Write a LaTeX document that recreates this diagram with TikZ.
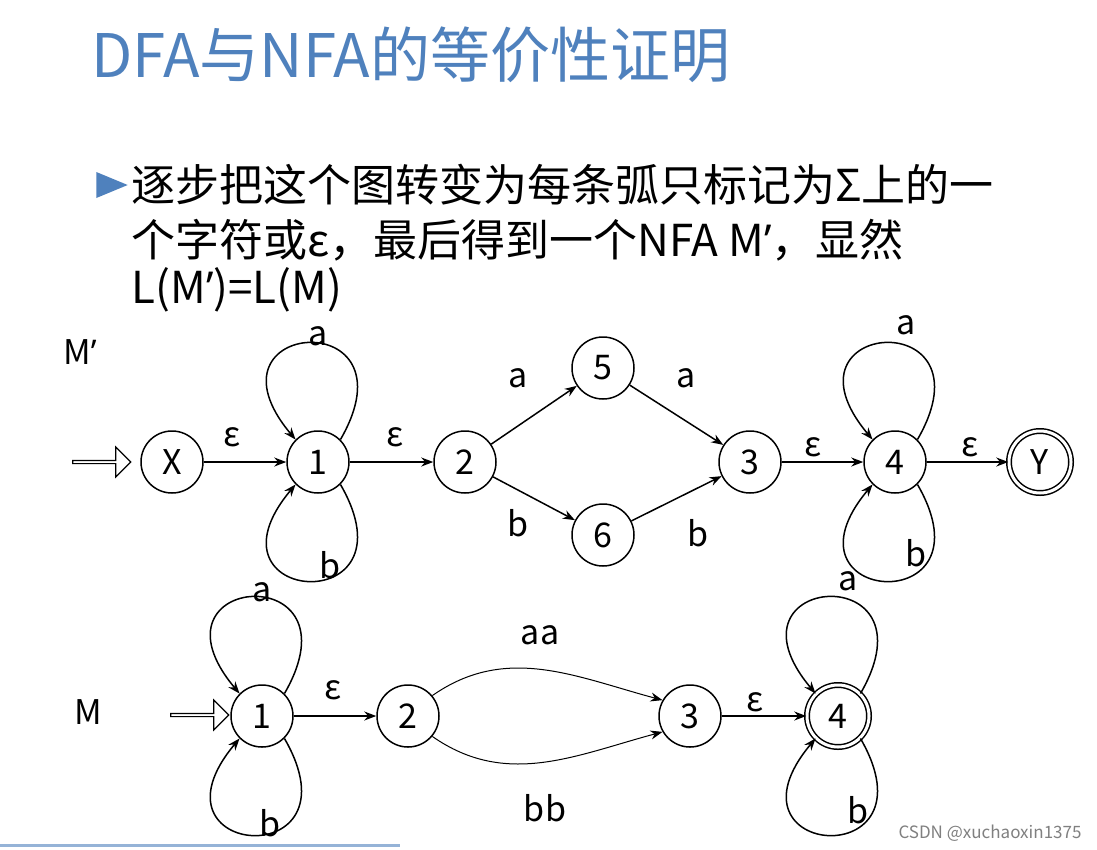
\documentclass[tikz,border=0pt]{standalone}
\usepackage{fontspec}
\setmainfont{Noto Sans CJK SC}
\newfontfamily\lat{Open Sans}
\usetikzlibrary{arrows.meta,shapes.arrows,shapes.geometric}
\definecolor{tblue}{RGB}{79,129,189}
\tikzset{
 st/.style={circle,draw,line width=1.5pt,minimum size=62pt,inner sep=0pt,font=\fontsize{34}{34}\selectfont},
 fin/.style={st,double,double distance=3pt},
 tr/.style={-{Stealth[length=12pt,width=9pt]},line width=1.5pt},
 lp/.style={tr,looseness=9},
 lb/.style={font=\fontsize{34}{34}\selectfont},
 startar/.style={single arrow,draw,line width=1.2pt,minimum width=30pt,single arrow head extend=5pt,minimum height=58pt,inner sep=0pt}
}
\begin{document}
\begin{tikzpicture}[x=1pt,y=-1pt]
\useasboundingbox (0,0) rectangle (1097,849);
\fill[white] (0,0) rectangle (1097,849);
\node[anchor=west,text=tblue,font=\fontsize{60}{60}\selectfont] (title) at (88,55) {DFA与NFA的等价性证明};
\node[fill=tblue,isosceles triangle,inner sep=0pt,minimum width=26pt,minimum height=24pt] (bul) at (105,185) {};
\node[anchor=west,font=\fontsize{44}{44}\selectfont] (t1) at (128,185) {逐步把这个图转变为每条弧只标记为Σ上的一};
\node[anchor=west,font=\fontsize{44}{44}\selectfont] (t2) at (128,240) {个字符或ε，最后得到一个NFA M{\lat ’}，显然};
\node[anchor=west,font=\fontsize{44}{44}\selectfont] (t3) at (128,290) {L(M{\lat ’})=L(M)};
% top automaton
\node[lb] (lMp) at (80,352) {M{\lat ’}};
\node[startar] (s1) at (101,462) {};
\node[st] (X) at (172,462) {X};
\node[st] (a1) at (318,462) {1};
\node[st] (a2) at (465,462) {2};
\node[st] (a5) at (603,368) {5};
\node[st] (a6) at (603,535) {6};
\node[st] (a3) at (750,462) {3};
\node[st] (a4) at (895,462) {4};
\node[fin] (Y) at (1040,462) {Y};
\draw[tr] (X) -- (a1);
\draw[tr] (a1) -- (a2);
\draw[tr] (a2) -- (a5);
\draw[tr] (a5) -- (a3);
\draw[tr] (a2) -- (a6);
\draw[tr] (a6) -- (a3);
\draw[tr] (a3) -- (a4);
\draw[tr] (a4) -- (Y);
\draw[lp] (a1.45) to[out=60,in=130] (a1.135);
\draw[lp] (a1.-45) to[out=-60,in=-130] (a1.-135);
\draw[lp] (a4.45) to[out=60,in=130] (a4.135);
\draw[lp] (a4.-45) to[out=-60,in=-130] (a4.-135);
\node[lb] at (232,437) {ε};
\node[lb] at (395,437) {ε};
\node[lb] at (318,336) {a};
\node[lb] at (330,565) {b};
\node[lb] at (518,378) {a};
\node[lb] at (686,378) {a};
\node[lb] at (518,523) {b};
\node[lb] at (698,533) {b};
\node[lb] at (813,447) {ε};
\node[lb] at (970,447) {ε};
\node[lb] at (906,325) {a};
\node[lb] at (916,553) {b};
% bottom automaton
\node[lb] (lM) at (88,712) {M};
\node[startar] (s2) at (199,715) {};
\node[st] (b1) at (262,716) {1};
\node[st] (b2) at (408,716) {2};
\node[st] (b3) at (690,716) {3};
\node[fin] (b4) at (838,716) {4};
\draw[tr] (b1) -- (b2);
\draw[tr] (b3) -- (b4);
\draw[tr,line width=1pt] (b2.40) to[out=35,in=165] (b3.150);
\draw[tr,line width=1pt] (b2.-40) to[out=-35,in=-165] (b3.-150);
\draw[lp] (b1.45) to[out=60,in=130] (b1.135);
\draw[lp] (b1.-45) to[out=-60,in=-130] (b1.-135);
\draw[lp] (b4.45) to[out=60,in=130] (b4.135);
\draw[lp] (b4.-45) to[out=-60,in=-130] (b4.-135);
\node[lb] at (333,690) {ε};
\node[lb] at (755,702) {ε};
\node[lb] at (540,635) {aa};
\node[lb] at (545,808) {bb};
\node[lb] at (262,592) {a};
\node[lb] at (270,823) {b};
\node[lb] at (848,581) {a};
\node[lb] at (858,810) {b};
\draw[line width=3pt,color=tblue!60] (0,845) -- (400,845);
\node[anchor=east,text=gray,font=\fontsize{17}{17}\selectfont] (wm) at (1085,833) {CSDN @xuchaoxin1375};
\end{tikzpicture}
\end{document}
